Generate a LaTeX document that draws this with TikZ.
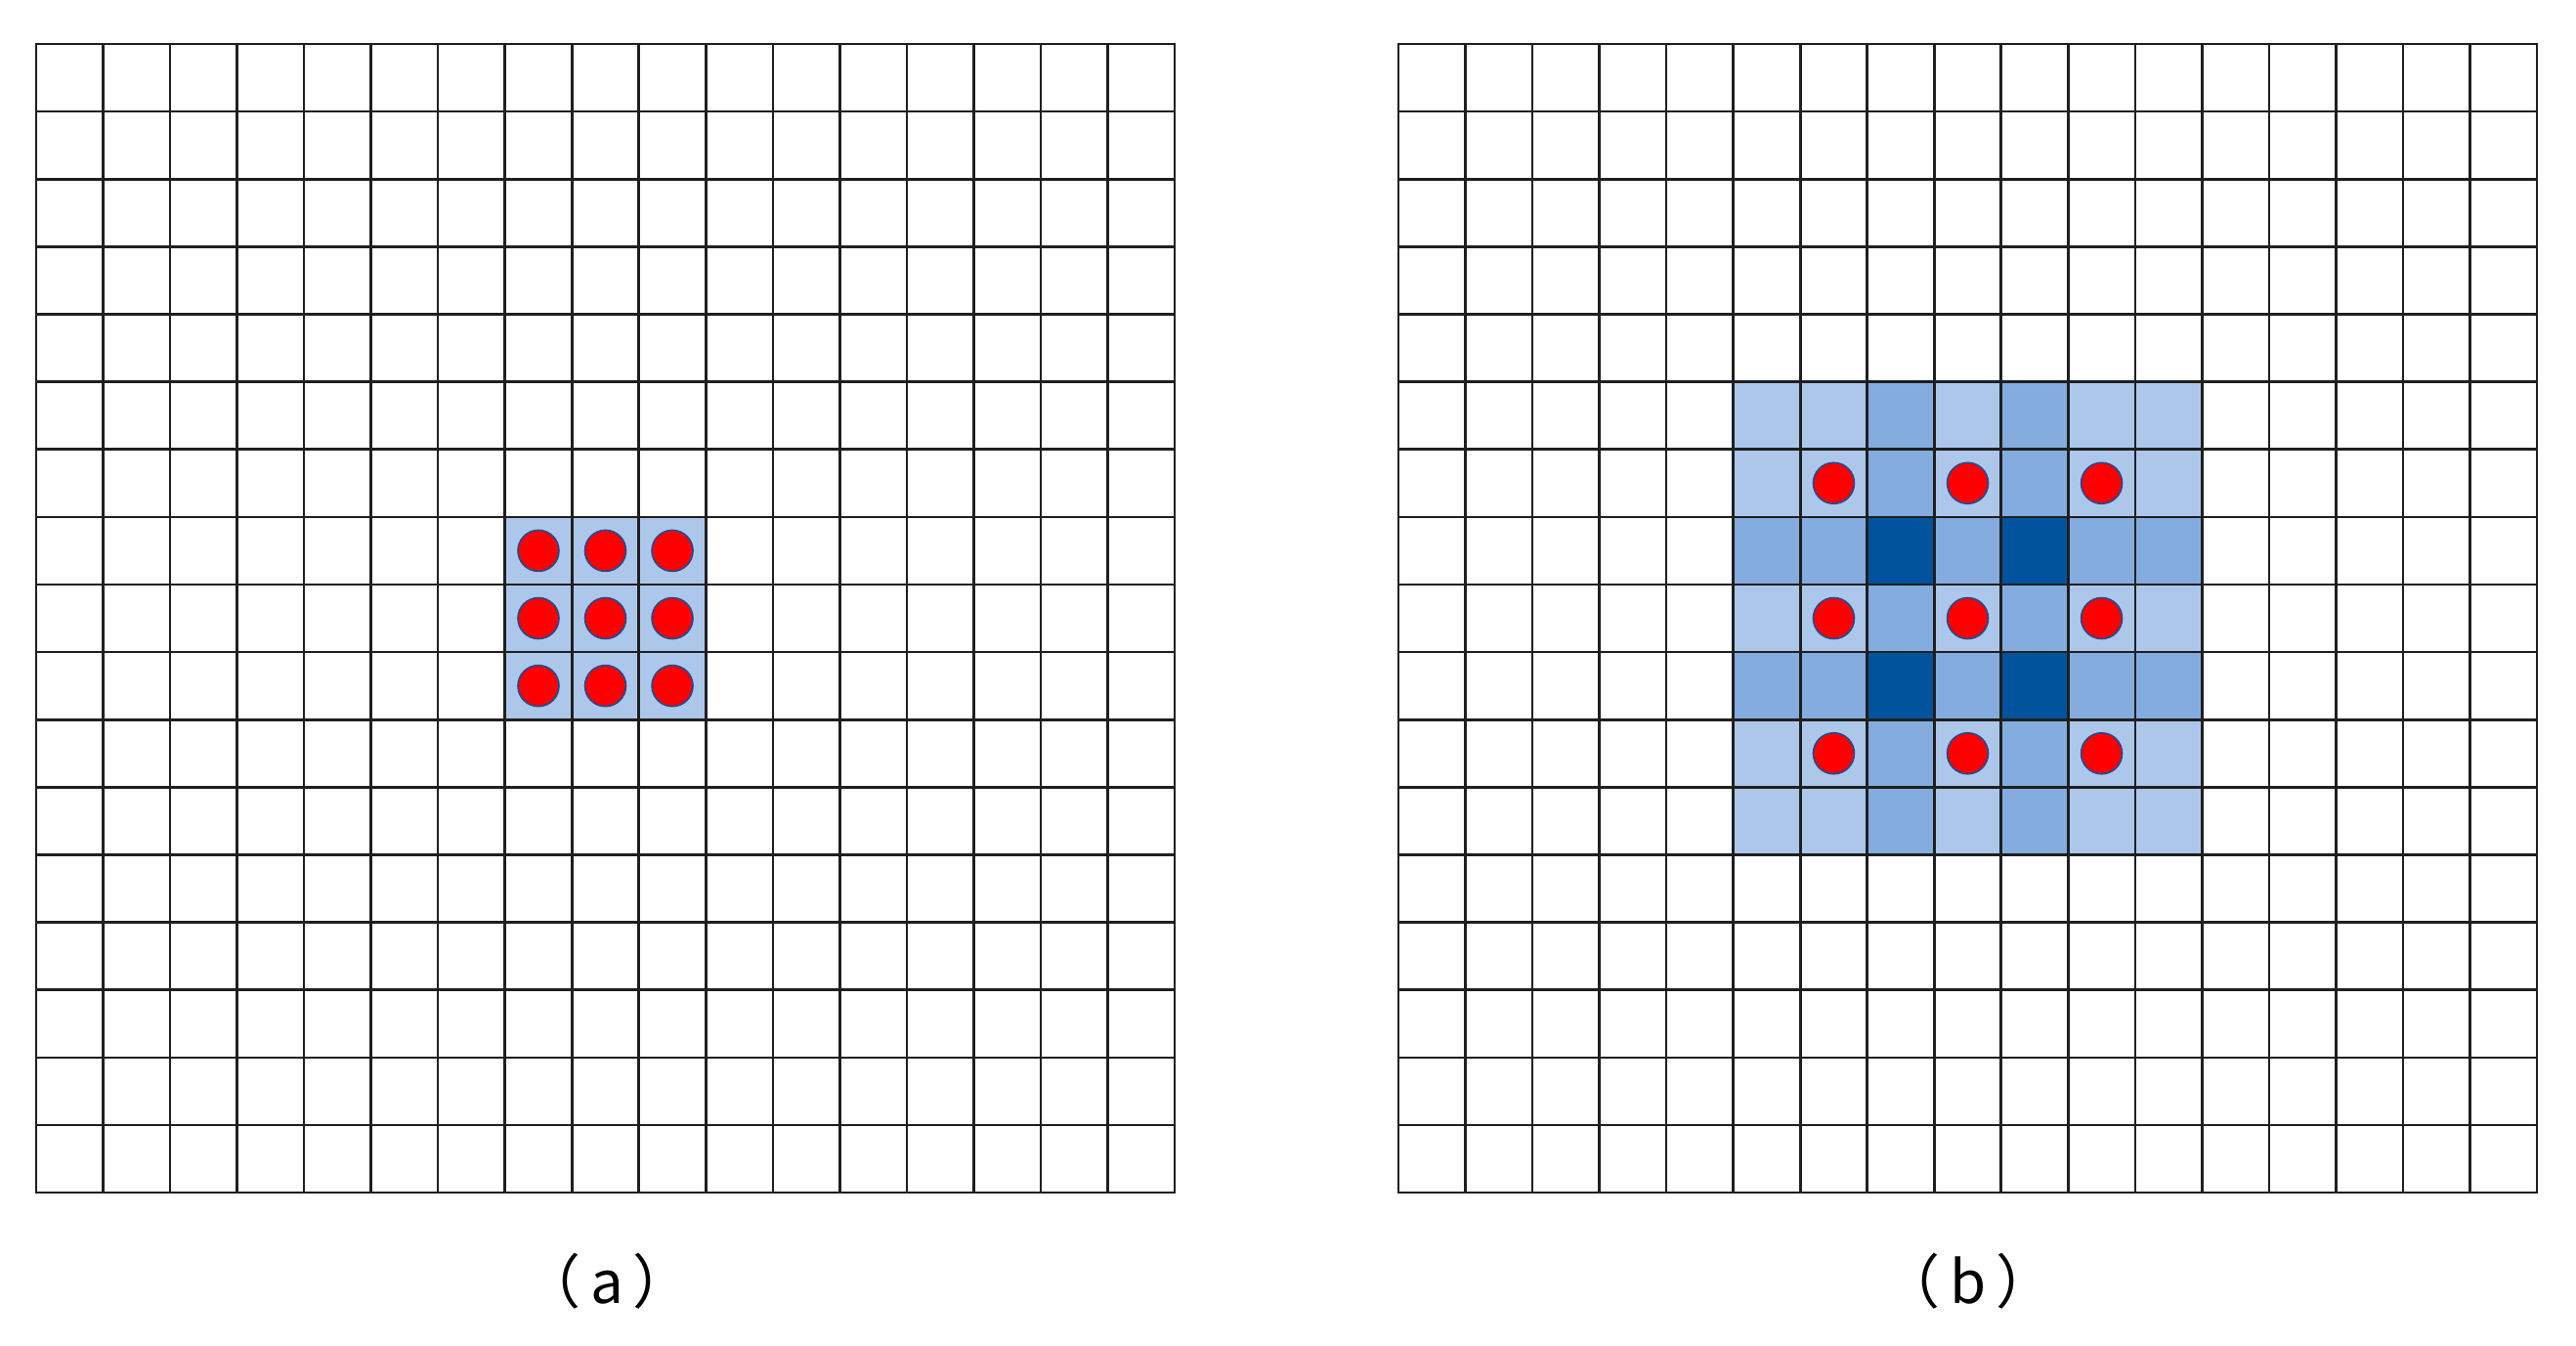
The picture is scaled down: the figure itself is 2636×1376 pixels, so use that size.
\documentclass[tikz,border=0pt]{standalone}
\usepackage{fontspec}
\newfontfamily\cjkfont{Noto Sans CJK SC}
\definecolor{lightb}{RGB}{173,199,235}
\definecolor{midb}{RGB}{132,172,222}
\definecolor{darkb}{RGB}{0,83,156}
\definecolor{dotline}{RGB}{25,78,150}
\begin{document}
\begin{tikzpicture}[x=1pt,y=-1pt,
  gridline/.style={line width=2.6pt, draw=black!88, line cap=rect},
  reddot/.style={circle, fill=red, draw=dotline, line width=1.6pt, minimum size=42pt, inner sep=0pt},
  lbl/.style={font=\cjkfont\fontsize{60}{70}\selectfont, inner sep=0pt}]
\useasboundingbox (0,0) rectangle (2636,1376);
\fill[white] (0,0) rectangle (2636,1376);
\def\cw{68.53}
\def\ch{69.12}
\def\ty{45}
% ---------- left grid fills ----------
\def\lx{37}
\fill[lightb] (\lx+7*\cw,\ty+7*\ch) rectangle (\lx+10*\cw,\ty+10*\ch);
% ---------- right grid fills ----------
\def\rx{1431}
\fill[lightb] (\rx+5*\cw,\ty+5*\ch) rectangle (\rx+12*\cw,\ty+12*\ch);
\foreach \k in {7,9}{
  \fill[midb] (\rx+\k*\cw,\ty+5*\ch) rectangle (\rx+\k*\cw+\cw,\ty+12*\ch);
  \fill[midb] (\rx+5*\cw,\ty+\k*\ch) rectangle (\rx+12*\cw,\ty+\k*\ch+\ch);
}
\foreach \i in {7,9}{
  \foreach \j in {7,9}{
    \fill[darkb] (\rx+\i*\cw,\ty+\j*\ch) rectangle (\rx+\i*\cw+\cw,\ty+\j*\ch+\ch);
  }
}
% ---------- grids ----------
\foreach \gx in {\lx,\rx}{
  \foreach \k in {0,...,17}{
    \draw[gridline] (\gx+\k*\cw,\ty) -- (\gx+\k*\cw,\ty+17*\ch);
    \draw[gridline] (\gx,\ty+\k*\ch) -- (\gx+17*\cw,\ty+\k*\ch);
  }
}
% ---------- dots ----------
\foreach \i in {7,8,9}{
  \foreach \j in {7,8,9}{
    \node[reddot] (a-\i-\j) at (\lx+\i*\cw+0.5*\cw,\ty+\j*\ch+0.5*\ch) {};
  }
}
\foreach \i in {6,8,10}{
  \foreach \j in {6,8,10}{
    \node[reddot] (b-\i-\j) at (\rx+\i*\cw+0.5*\cw,\ty+\j*\ch+0.5*\ch) {};
  }
}
% ---------- labels ----------
\node[lbl] (la) at (621,1311) {（\kern10pt a\kern10pt）};
\node[lbl] (lb) at (2014,1311) {（\kern10pt b\kern10pt）};
\end{tikzpicture}
\end{document}
